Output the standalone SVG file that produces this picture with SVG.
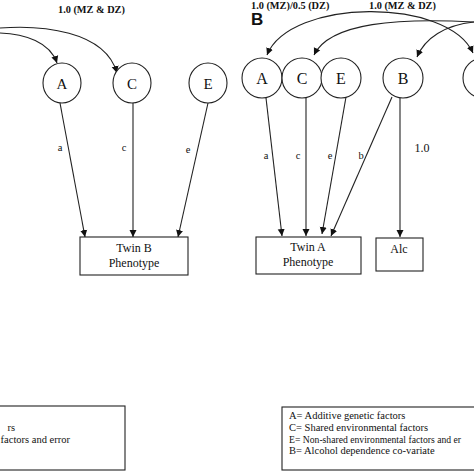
<svg xmlns="http://www.w3.org/2000/svg" width="474" height="474" viewBox="0 0 474 474">
<style>
.ln{fill:none;stroke:#222;stroke-width:1.1}
.nd{fill:#fff;stroke:#222;stroke-width:1.1}
.t{font-family:"Liberation Serif",serif;fill:#111}
.lbl{font-family:"Liberation Serif",serif;font-size:10.5px;fill:#111}
.hdr{font-family:"Liberation Serif",serif;font-size:10.3px;font-weight:bold;fill:#111}
.leg{font-family:"Liberation Serif",serif;font-size:10.5px;fill:#111}
</style>
<defs>
<marker id="ah" markerWidth="8" markerHeight="8" refX="7" refY="4" orient="auto" markerUnits="userSpaceOnUse">
<path d="M0,0.5 L7,4 L0,7.5 Z" fill="#111"/>
</marker>
<marker id="ahs" markerWidth="8" markerHeight="8" refX="7" refY="4" orient="auto-start-reverse" markerUnits="userSpaceOnUse">
<path d="M0,0.5 L7,4 L0,7.5 Z" fill="#111"/>
</marker>
</defs>
<rect width="474" height="474" fill="#fff"/>

<g id="connectors">
<path class="ln" d="M0,33 C25,34 50,42 57,63" marker-end="url(#ah)"/>
<path class="ln" d="M0,28 C40,25 105,30 117,73" marker-end="url(#ah)"/>
<line class="ln" x1="60" y1="103" x2="85" y2="237" marker-end="url(#ah)"/>
<line class="ln" x1="133" y1="103" x2="133" y2="237" marker-end="url(#ah)"/>
<line class="ln" x1="208" y1="103" x2="178" y2="237" marker-end="url(#ah)"/>
<path class="ln" d="M473,53 C448,-3 290,-2 267,55" marker-start="url(#ahs)" marker-end="url(#ah)"/>
<path class="ln" d="M474,22 C400,18 330,22 314,55" marker-end="url(#ah)"/>
<path class="ln" d="M474,22 C445,25 425,38 417,57" marker-end="url(#ah)"/>
<line class="ln" x1="266" y1="98" x2="282" y2="236" marker-end="url(#ah)"/>
<line class="ln" x1="306" y1="98" x2="306" y2="236" marker-end="url(#ah)"/>
<line class="ln" x1="346" y1="97" x2="322" y2="234" marker-end="url(#ah)"/>
<line class="ln" x1="392" y1="97" x2="331" y2="236" marker-end="url(#ah)"/>
<line class="ln" x1="400" y1="98" x2="400" y2="237" marker-end="url(#ah)"/>
</g>

<g id="labels">
<text class="hdr" x="58" y="13">1.0 (MZ &amp; DZ)</text>
<text class="hdr" x="251" y="9" font-size="10">1.0 (MZ)/0.5 (DZ)</text>
<text class="hdr" x="369" y="9">1.0 (MZ &amp; DZ)</text>
<text x="251" y="25" font-family="Liberation Sans,Arial,sans-serif" font-weight="bold" font-size="17" fill="#111">B</text>
<text class="lbl" x="60" y="151" text-anchor="middle">a</text>
<text class="lbl" x="124" y="151" text-anchor="middle">c</text>
<text class="lbl" x="188" y="153" text-anchor="middle">e</text>
<text class="lbl" x="266" y="159" text-anchor="middle">a</text>
<text class="lbl" x="298" y="159" text-anchor="middle">c</text>
<text class="lbl" x="330" y="159" text-anchor="middle">e</text>
<text class="lbl" x="361" y="159" text-anchor="middle">b</text>
<text class="t" x="422" y="152" font-size="12" text-anchor="middle">1.0</text>
</g>

<g id="nodeA_B">
<ellipse class="nd" cx="62" cy="83" rx="19" ry="20"/>
<text class="t" x="62" y="89" font-size="15" text-anchor="middle">A</text>
</g>
<g id="nodeC_B">
<ellipse class="nd" cx="132" cy="83" rx="19" ry="20"/>
<text class="t" x="132" y="89" font-size="15" text-anchor="middle">C</text>
</g>
<g id="nodeE_B">
<ellipse class="nd" cx="208" cy="83" rx="19" ry="20"/>
<text class="t" x="208" y="89" font-size="15" text-anchor="middle">E</text>
</g>
<g id="twinB">
<rect class="nd" x="80" y="237" width="108" height="38"/>
<text class="t" x="134" y="252" font-size="12" text-anchor="middle">Twin B</text>
<text class="t" x="134" y="267" font-size="12" text-anchor="middle">Phenotype</text>
</g>

<g id="nodeA_A">
<circle class="nd" cx="262" cy="78" r="20"/>
<text class="t" x="262" y="84" font-size="16" text-anchor="middle">A</text>
</g>
<g id="nodeC_A">
<circle class="nd" cx="302" cy="78" r="20"/>
<text class="t" x="302" y="84" font-size="16" text-anchor="middle">C</text>
</g>
<g id="nodeE_A">
<circle class="nd" cx="341" cy="78" r="20"/>
<text class="t" x="341" y="84" font-size="16" text-anchor="middle">E</text>
</g>
<g id="nodeB_A">
<circle class="nd" cx="403" cy="78" r="20"/>
<text class="t" x="403" y="84" font-size="16" text-anchor="middle">B</text>
</g>
<g id="nodeRight">
<circle class="nd" cx="483" cy="78" r="20"/>
</g>
<g id="twinA">
<rect class="nd" x="256" y="237" width="105" height="37"/>
<text class="t" x="308" y="251" font-size="12" text-anchor="middle">Twin A</text>
<text class="t" x="308" y="266" font-size="12" text-anchor="middle">Phenotype</text>
</g>
<g id="alc">
<rect class="nd" x="376" y="238" width="47" height="33"/>
<text class="t" x="399" y="253" font-size="12" text-anchor="middle">Alc</text>
</g>

<g id="legendLeft">
<rect class="nd" x="-5" y="406" width="130" height="64"/>
<text class="leg" x="15" y="431" text-anchor="end">rs</text>
<text class="leg" x="70" y="443" text-anchor="end">factors and error</text>
</g>
<g id="legendRight">
<rect class="nd" x="282" y="407" width="200" height="63"/>
<text class="leg" x="289" y="419">A= Additive genetic factors</text>
<text class="leg" x="289" y="431">C= Shared environmental factors</text>
<text class="leg" x="289" y="443" font-size="10" textLength="172" lengthAdjust="spacingAndGlyphs">E= Non-shared environmental factors and er</text>
<text class="leg" x="289" y="454">B= Alcohol dependence co-variate</text>
</g>
</svg>
